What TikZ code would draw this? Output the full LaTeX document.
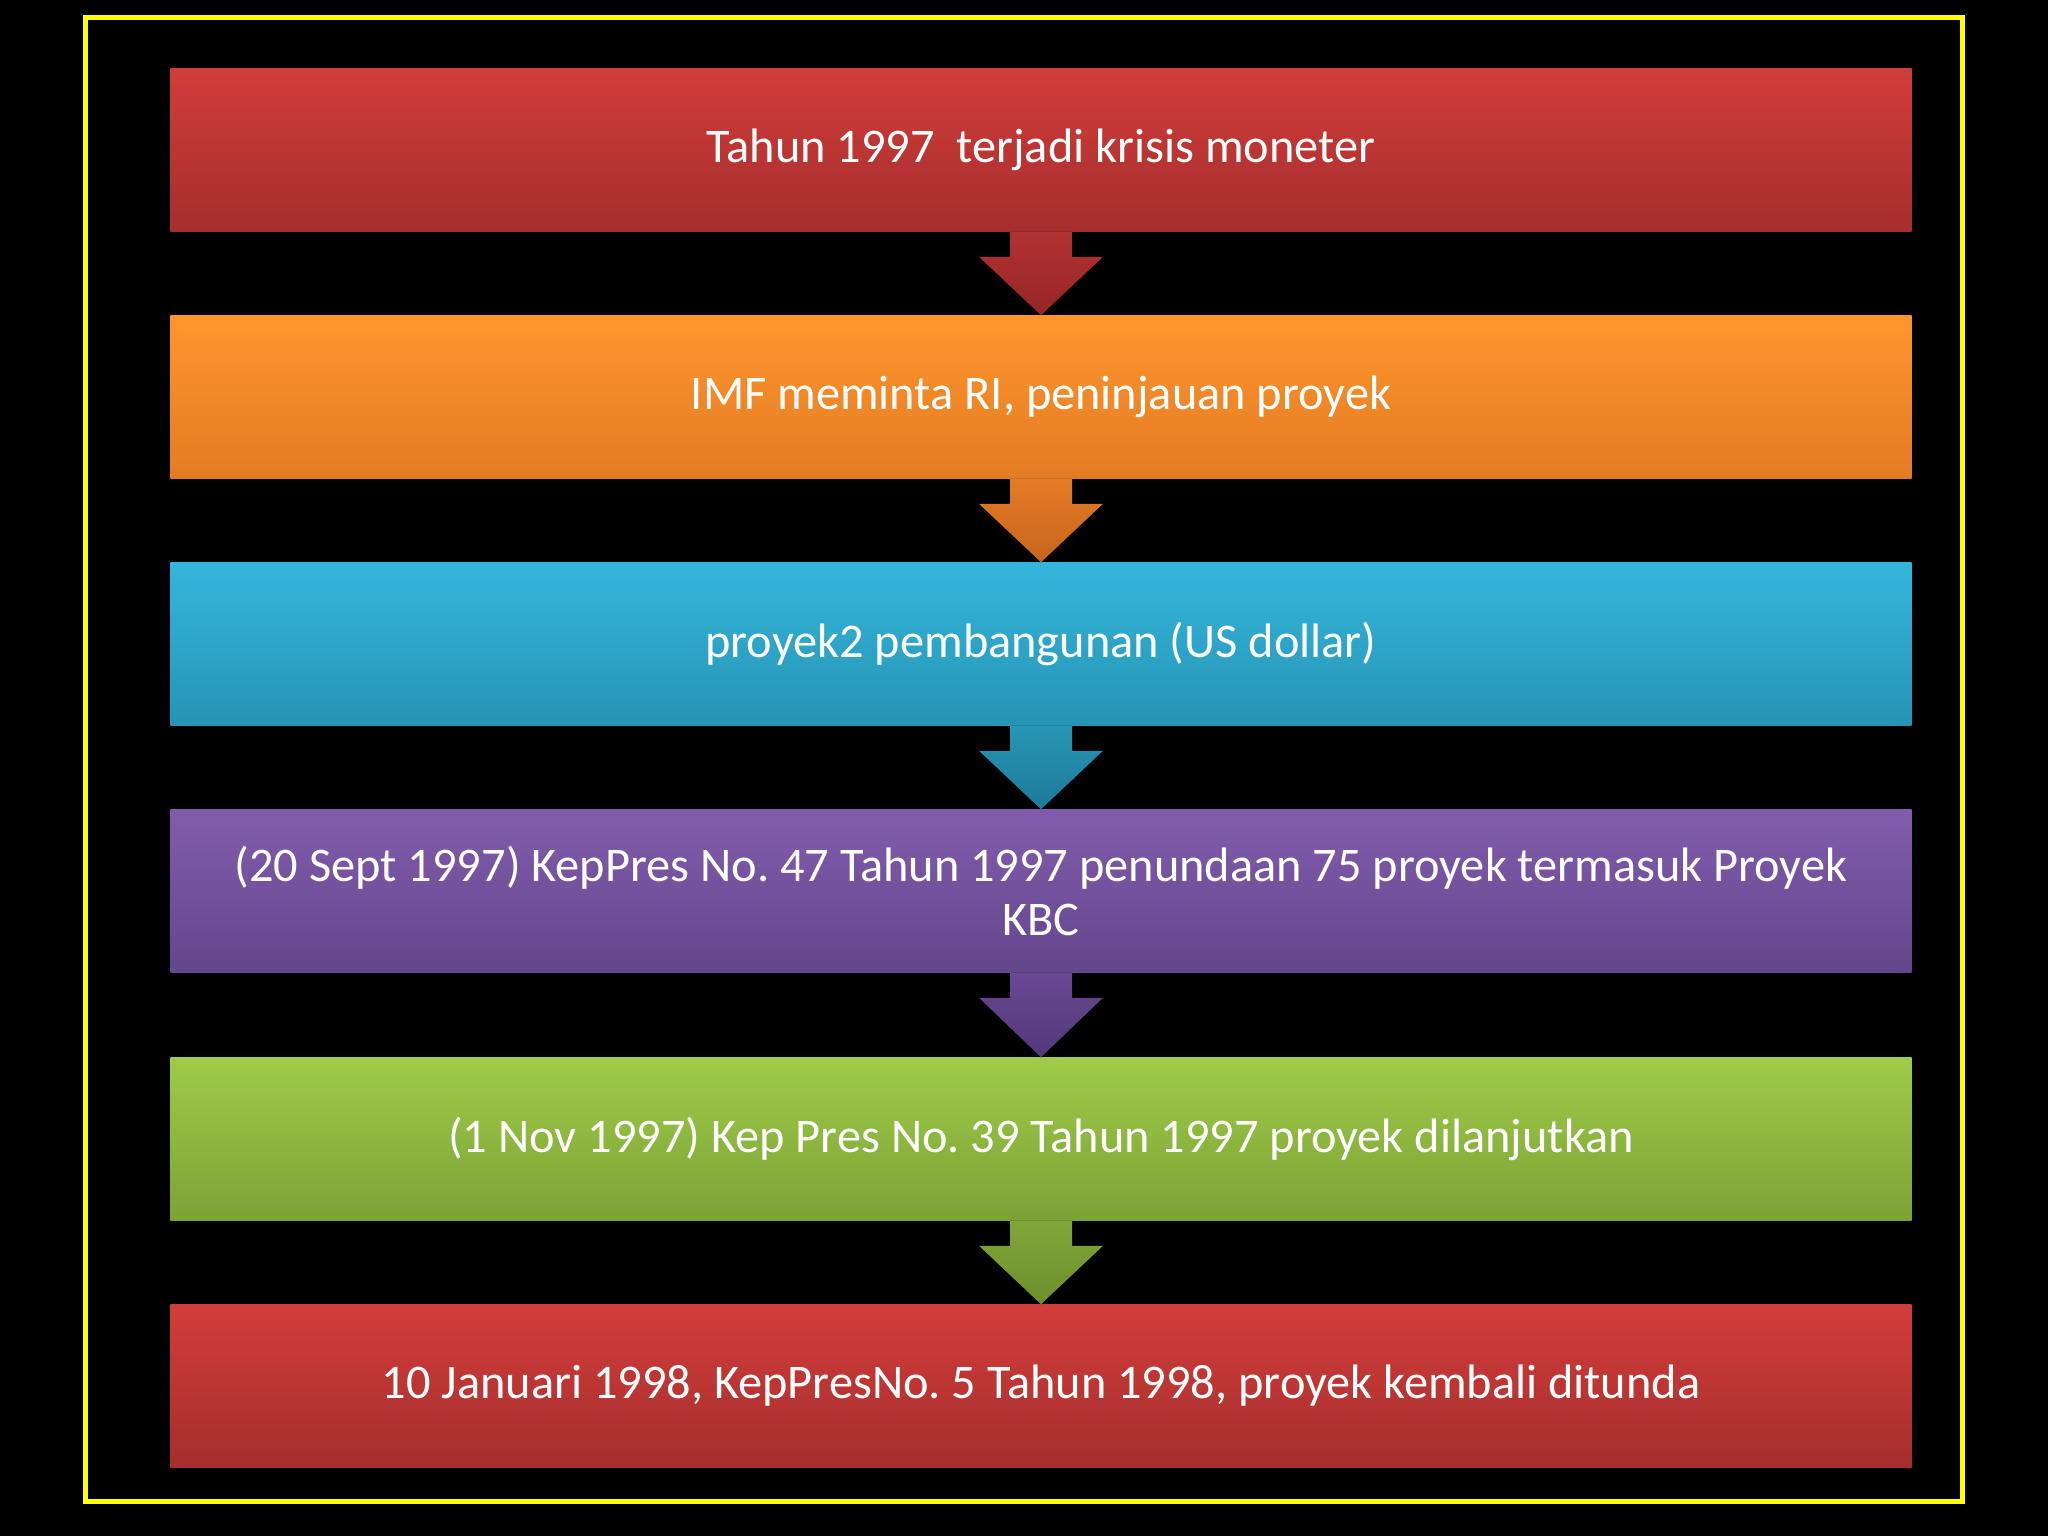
\documentclass[tikz,border=0pt]{standalone}
\usepackage{fontspec}
\setmainfont{Carlito}
\usetikzlibrary{calc}
\definecolor{frameY}{RGB}{255,255,0}
\definecolor{redT}{RGB}{210,61,59}
\definecolor{redB}{RGB}{165,46,44}
\definecolor{orgT}{RGB}{255,149,44}
\definecolor{orgB}{RGB}{226,124,36}
\definecolor{bluT}{RGB}{52,182,220}
\definecolor{bluB}{RGB}{38,148,180}
\definecolor{purT}{RGB}{130,92,172}
\definecolor{purB}{RGB}{100,70,140}
\definecolor{grnT}{RGB}{158,203,72}
\definecolor{grnB}{RGB}{124,162,54}
\definecolor{redAT}{RGB}{178,50,50}
\definecolor{redAB}{RGB}{150,38,38}
\definecolor{orgAT}{RGB}{228,125,38}
\definecolor{orgAB}{RGB}{200,100,30}
\definecolor{bluAT}{RGB}{40,150,182}
\definecolor{bluAB}{RGB}{30,122,152}
\definecolor{purAT}{RGB}{104,72,146}
\definecolor{purAB}{RGB}{84,56,122}
\definecolor{grnAT}{RGB}{128,168,56}
\definecolor{grnAB}{RGB}{106,142,44}
\tikzset{
  stepbox/.style={rectangle, minimum width=17.4cm, minimum height=1.62cm,
    inner sep=0pt, text=white, align=center,
    font=\fontsize{13.75pt}{15.2pt}\selectfont\frenchspacing},
}
\newcommand{\downarrowshape}[4]{%
  \fill[top color=#3, bottom color=#4]
    ($(#1.south)+(-31,0)$) -- ($(#1.south)+(-31,25)$) -- ($(#1.south)+(-62,25)$)
    -- (#2.north) -- ($(#1.south)+(62,25)$) -- ($(#1.south)+(31,25)$)
    -- ($(#1.south)+(31,0)$) -- cycle;}
\begin{document}
\begin{tikzpicture}[x=0.01cm,y=-0.01cm]
\fill[black] (0,0) rectangle (2048,1536);
\useasboundingbox (0,0) rectangle (2048,1536);
\draw[frameY, line width=0.05cm] (85.5,17) rectangle (1962,1501);

\node[stepbox, top color=redT, bottom color=redB] (b1) at (1041,150) {Tahun 1997\ \ terjadi krisis moneter};
\node[stepbox, top color=orgT, bottom color=orgB] (b2) at (1041,397) {IMF meminta RI, peninjauan proyek};
\node[stepbox, top color=bluT, bottom color=bluB] (b3) at (1041,644) {proyek2 pembangunan (US dollar)};
\node[stepbox, top color=purT, bottom color=purB] (b4) at (1041,891) {(20 Sept 1997) KepPres No. 47 Tahun 1997 penundaan 75 proyek termasuk Proyek\\KBC};
\node[stepbox, top color=grnT, bottom color=grnB] (b5) at (1041,1139) {(1 Nov 1997) Kep Pres No. 39 Tahun 1997 proyek dilanjutkan};
\node[stepbox, top color=redT, bottom color=redB] (b6) at (1041,1386) {10 Januari 1998, KepPresNo. 5 Tahun 1998, proyek kembali ditunda};

\downarrowshape{b1}{b2}{redAT}{redAB}
\downarrowshape{b2}{b3}{orgAT}{orgAB}
\downarrowshape{b3}{b4}{bluAT}{bluAB}
\downarrowshape{b4}{b5}{purAT}{purAB}
\downarrowshape{b5}{b6}{grnAT}{grnAB}
\end{tikzpicture}
\end{document}
